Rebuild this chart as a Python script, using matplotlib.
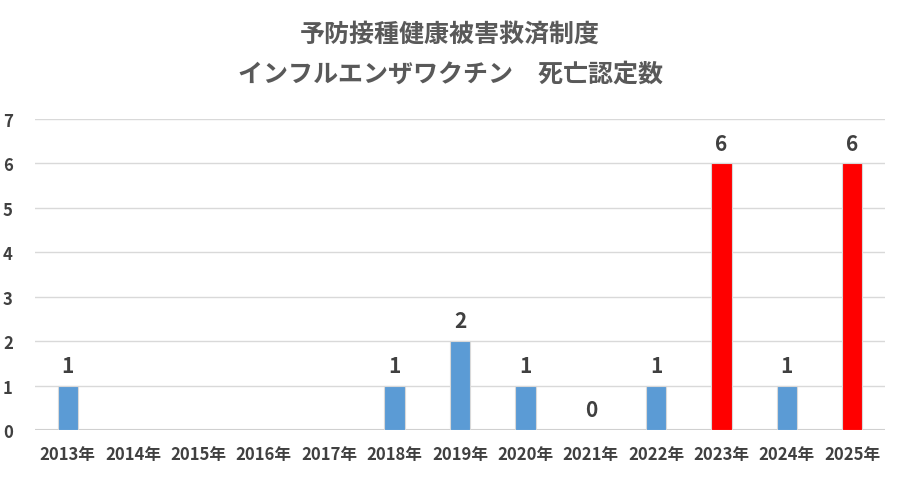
import numpy as np
import matplotlib.pyplot as plt

plt.rcParams['font.family'] = ['Noto Sans CJK JP', 'DejaVu Sans']

years = ["2013年", "2014年", "2015年", "2016年", "2017年", "2018年", "2019年",
         "2020年", "2021年", "2022年", "2023年", "2024年", "2025年"]
deaths = [1, None, None, None, None, 1, 2, 1, 0, 1, 6, 1, 6]
bar_colors = ["#5B9BD5"] * 10 + ["#FF0000", "#5B9BD5", "#FF0000"]

fig = plt.figure(figsize=(9, 4.81), dpi=100)
ax = fig.add_axes([35 / 900, 1 - 431 / 481, 850 / 900, 311 / 481])

x = np.arange(len(years))
vals = np.array([np.nan if v is None else v for v in deaths], dtype=float)
ax.bar(x, np.nan_to_num(vals), width=0.31, color=bar_colors, edgecolor="#D9D9D9", linewidth=0.8, zorder=3)

for xi, v in zip(x, deaths):
    if v is None:
        continue
    ax.text(xi, v + 0.22, str(v), ha="center", va="bottom", fontsize=15,
            fontweight="bold", color="#404040")

ax.set_xlim(-0.5, len(years) - 0.5)
ax.set_ylim(0, 7)
ax.set_yticks(range(0, 8))
ax.set_xticks(x)
ax.set_xticklabels(years)
ax.grid(axis="y", color="#D9D9D9", linewidth=1, zorder=0)
for s in ax.spines.values():
    s.set_visible(False)
ax.axhline(0, color="#D0D0D0", linewidth=1.5, zorder=2)
ax.tick_params(length=0, labelsize=12, labelcolor="#404040", pad=11)
ax.tick_params(axis="y", pad=16)
for lab in ax.get_xticklabels() + ax.get_yticklabels():
    lab.set_fontweight("bold")

fig.text(0.5, 1 - 35 / 481, "予防接種健康被害救済制度", ha="center", va="center",
         fontsize=18, fontweight="bold", color="#595959")
fig.text(0.5, 1 - 75 / 481, "インフルエンザワクチン　死亡認定数", ha="center", va="center",
         fontsize=18, fontweight="bold", color="#595959")

fig.savefig("out.png", dpi=100)
